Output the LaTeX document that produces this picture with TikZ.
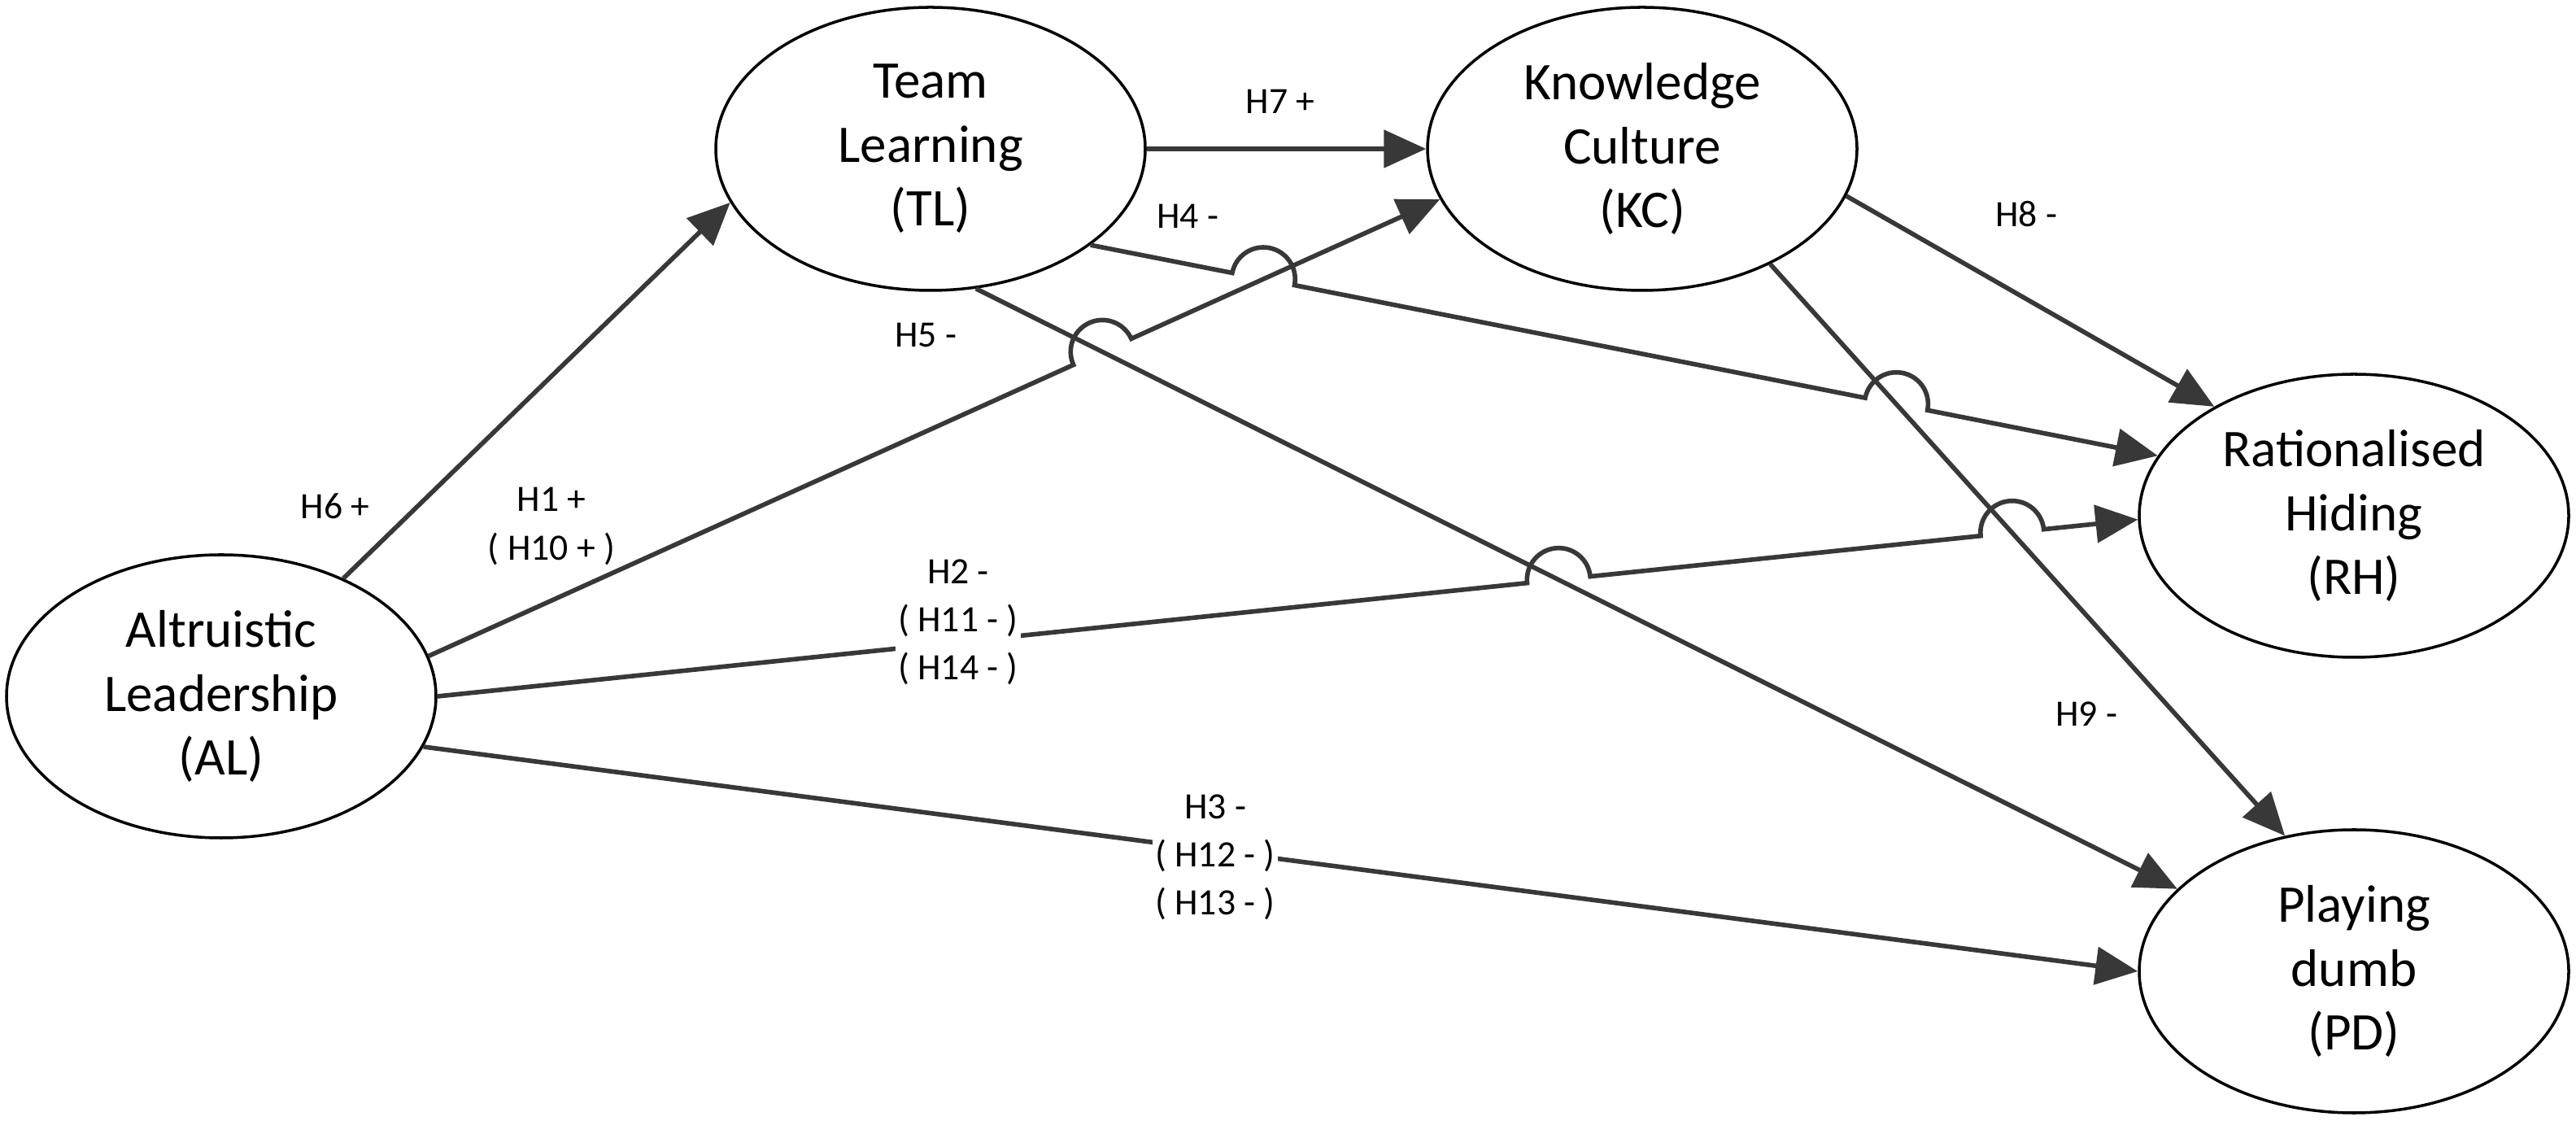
\documentclass[tikz,border=0pt]{standalone}
\usepackage{fontspec}
\setmainfont{Carlito}
\usepackage{tikz}
\usetikzlibrary{shapes.geometric,calc}
\usetikzlibrary{arrows.meta}

\begin{document}
\begin{tikzpicture}[
    construct/.style={ellipse, draw, line width=1pt, minimum width=5.28cm, minimum height=3.48cm, inner sep=0pt, align=center, font=\fontsize{18.5}{22.3}\selectfont},
    link/.style={line width=1.6pt, draw=black!78, -{Triangle[length=0.52cm,width=0.46cm]}},
    hyp/.style={fill=white, inner sep=1pt, align=center, font=\fontsize{13}{16.8}\selectfont},
    hop/.style={to path={let \p1=($(\tikztotarget)-(\tikztostart)$), \n1={atan2(\y1,\x1)} in arc[start angle=\n1+180, end angle=\n1, radius=0.39cm]}}
  ]
  \useasboundingbox (0,0) rectangle (31.67,13.77);
  % the constructs
  \node[construct] (AL) at (2.72,5.21) {Altruistic\\Leadership\\(AL)};
  \node[construct] (TL) at (11.44,11.94) {Team\\Learning\\(TL)};
  \node[construct] (KC) at (20.19,11.94) {Knowledge\\Culture\\(KC)};
  \node[construct] (RH) at (28.94,7.43) {Rationalised\\Hiding\\(RH)};
  \node[construct] (PD) at (28.94,1.83) {Playing\\dumb\\(PD)};
  % straight paths
  \draw[link] (AL.44) -- (TL.195);
  \draw[link] (TL.0) -- (KC.180);
  \draw[link] (TL.288) -- (PD.155);
  \draw[link] (AL.346) -- (PD.180);
  \draw[link] (KC.347) -- (RH.142);
  \draw[link] (KC.318) -- (PD.117);
  % crossings where a path jumps over another one
  \coordinate (j1) at (intersection cs: first line={(AL.11)--(KC.194)}, second line={(TL.288)--(PD.155)});
  \coordinate (j2) at (intersection cs: first line={(TL.329)--(RH.163)}, second line={(AL.11)--(KC.194)});
  \coordinate (j3) at (intersection cs: first line={(TL.329)--(RH.163)}, second line={(KC.318)--(PD.117)});
  \coordinate (j4) at (intersection cs: first line={(AL.0)--(RH.181)}, second line={(TL.288)--(PD.155)});
  \coordinate (j5) at (intersection cs: first line={(AL.0)--(RH.181)}, second line={(KC.318)--(PD.117)});
  \coordinate (j1a) at ($(j1)!0.39cm!(AL.11)$);
  \coordinate (j1b) at ($(j1)!0.39cm!(KC.194)$);
  \coordinate (j2a) at ($(j2)!0.39cm!(TL.329)$);
  \coordinate (j2b) at ($(j2)!0.39cm!(RH.163)$);
  \coordinate (j3a) at ($(j3)!0.39cm!(TL.329)$);
  \coordinate (j3b) at ($(j3)!0.39cm!(RH.163)$);
  \coordinate (j4a) at ($(j4)!0.39cm!(AL.0)$);
  \coordinate (j4b) at ($(j4)!0.39cm!(RH.181)$);
  \coordinate (j5a) at ($(j5)!0.39cm!(AL.0)$);
  \coordinate (j5b) at ($(j5)!0.39cm!(RH.181)$);
  % paths with jumps
  \draw[link] (AL.11) -- (j1a) to[hop] (j1b) -- (KC.194);
  \draw[link] (TL.329) -- (j2a) to[hop] (j2b) -- (j3a) to[hop] (j3b) -- (RH.163);
  \draw[link] (AL.0) -- (j4a) to[hop] (j4b) -- (j5a) to[hop] (j5b) -- (RH.181);
  % label the hypotheses
  \node[hyp] (h6) at (4.12,7.55) {H6 +};
  \node[hyp] (h1) at (6.78,7.30) {H1 +\\( H10 + )};
  \node[hyp] (h2) at (11.78,6.12) {H2 -\\( H11 - )\\( H14 - )};
  \node[hyp] (h3) at (14.94,3.23) {H3 -\\( H12 - )\\( H13 - )};
  \node[hyp] (h4) at (14.60,11.11) {H4 -};
  \node[hyp] (h5) at (11.38,9.65) {H5 -};
  \node[hyp] (h7) at (15.74,12.52) {H7 +};
  \node[hyp] (h8) at (24.91,11.14) {H8 -};
  \node[hyp] (h9) at (25.65,4.99) {H9 -};
\end{tikzpicture}
\end{document}
